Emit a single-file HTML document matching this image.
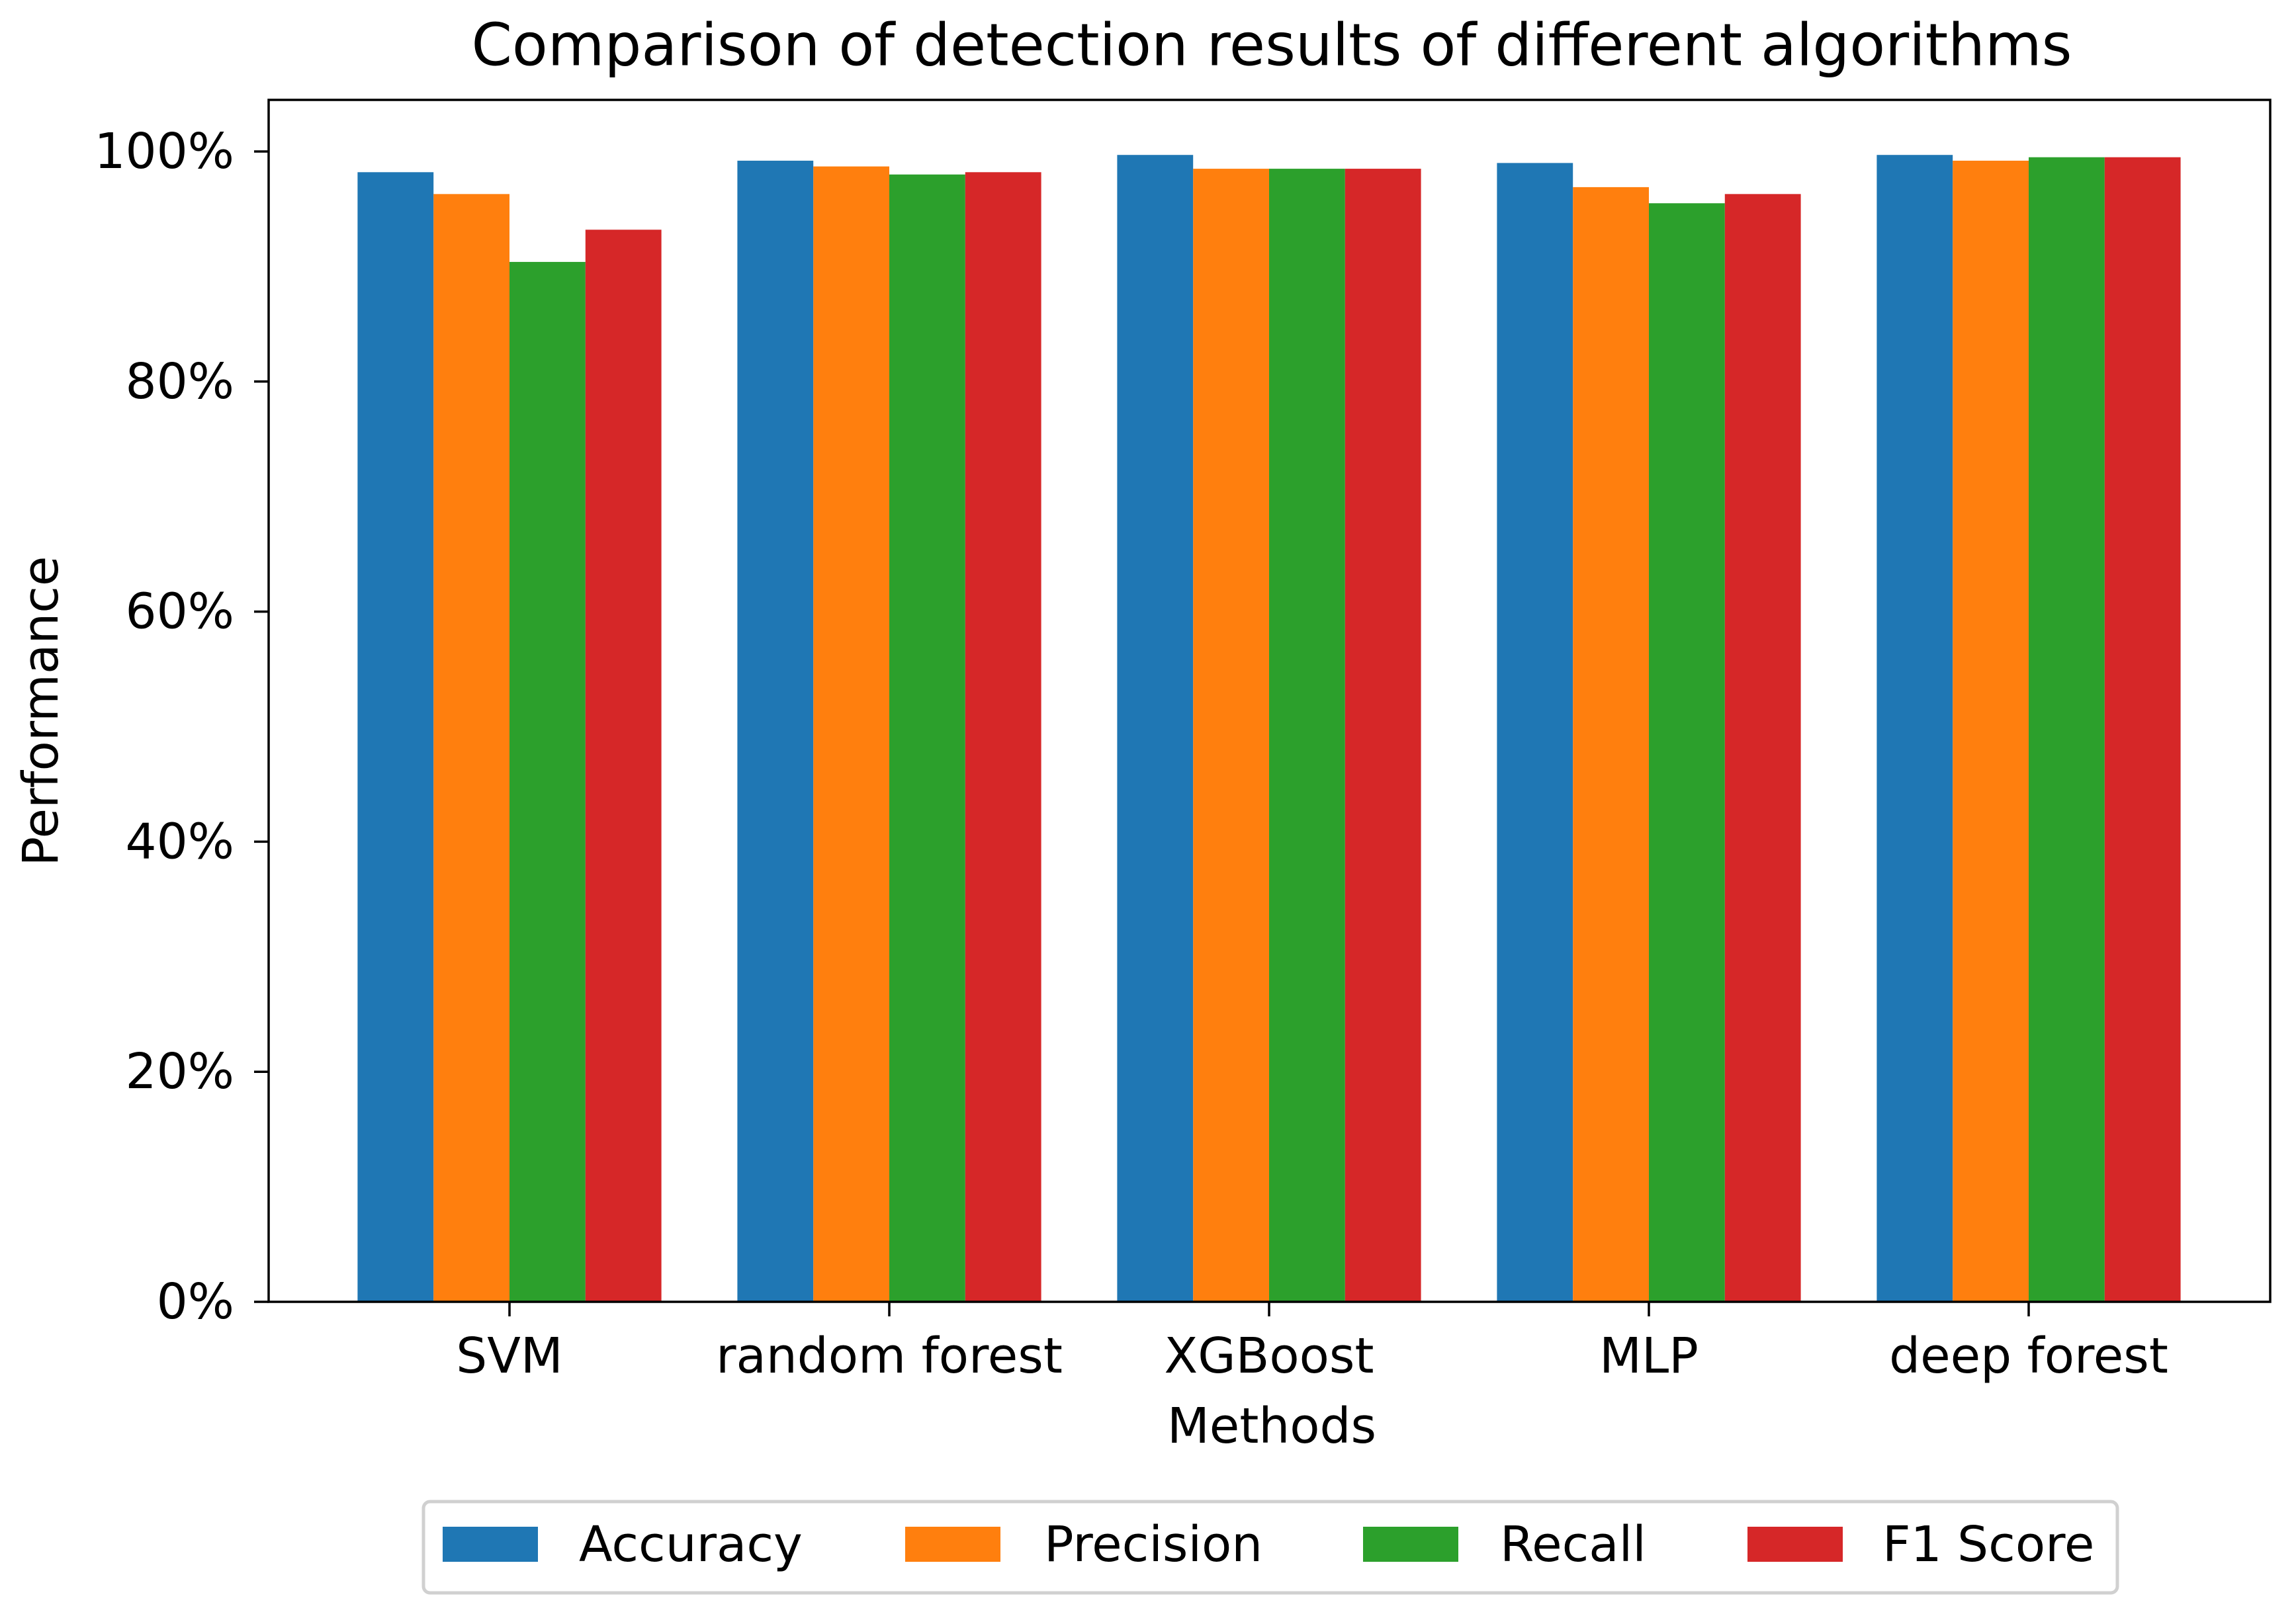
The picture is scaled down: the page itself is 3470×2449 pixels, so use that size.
<!DOCTYPE html>
<html><head><meta charset="utf-8"><style>
html,body{margin:0;padding:0;background:#fff;}
svg text{font-family:"DejaVu Sans","Liberation Sans",sans-serif;fill:#000;}
</style></head><body>
<svg id="chart" width="3470" height="2444" viewBox="0 0 3470 2444" xmlns="http://www.w3.org/2000/svg">
<rect width="3470" height="2444" fill="#fff"/>
<text x="1922" y="68" font-size="88" text-anchor="middle" dominant-baseline="central">Comparison of detection results of different algorithms</text>
<g id="bars"></g>
<g id="axes"></g>
<text x="1922" y="2156" font-size="74" text-anchor="middle" dominant-baseline="central">Methods</text>
<text transform="translate(62,1075) rotate(-90)" font-size="74" text-anchor="middle" dominant-baseline="central">Performance</text>
<g id="legend"></g>
</svg>
<script>
const categories = ["SVM", "random forest", "XGBoost", "MLP", "deep forest"];
const seriesNames = ["Accuracy", "Precision", "Recall", "F1 Score"];
const accuracy = [98.2, 99.2, 99.7, 99.0, 99.7];
const precision = [96.3, 98.7, 98.5, 96.9, 99.2];
const recall = [90.4, 98.0, 98.5, 95.5, 99.5];
const f1Score = [93.2, 98.2, 98.5, 96.3, 99.5];
const yTicks = [0, 20, 40, 60, 80, 100];
const yTickLabels = ["0%", "20%", "40%", "60%", "80%", "100%"];

const series = [accuracy, precision, recall, f1Score];
const colors = ["#1f77b4", "#ff7f0e", "#2ca02c", "#d62728"];
const NS = "http://www.w3.org/2000/svg";
const L = 406, R = 3431, T = 151, B = 1968, Y100 = 229;
const unit = 574, x0 = 770, barW = 0.2 * unit;
function xScale(i) { return x0 + i * unit; }
function yScale(v) { return B - (B - Y100) * v / 100; }
function mk(tag, attrs, parent) {
  const e = document.createElementNS(NS, tag);
  for (const k in attrs) e.setAttribute(k, attrs[k]);
  parent.appendChild(e);
  return e;
}
const bars = document.getElementById('bars');
series.forEach((vals, s) => {
  vals.forEach((v, i) => {
    const cx = xScale(i) + (s - 1.5) * barW;
    const r = mk('rect', {x: cx - barW / 2, y: yScale(v), width: barW, height: B - yScale(v), fill: colors[s]}, bars);
    
    
  });
});
const axes = document.getElementById('axes');
const frame = mk('rect', {x: L, y: T, width: R - L, height: B - T, fill: 'none', stroke: '#000', 'stroke-width': 3.5}, axes);


yTicks.forEach((t, k) => {
  const y = yScale(t);
  mk('line', {x1: L - 22, x2: L, y1: y, y2: y, stroke: '#000', 'stroke-width': 3.5}, axes);
  const tx = mk('text', {x: L - 52, y: y, 'font-size': 74, 'text-anchor': 'end', 'dominant-baseline': 'central'}, axes);
  tx.textContent = yTickLabels[k];
  
  
});
categories.forEach((c, i) => {
  const x = xScale(i);
  mk('line', {x1: x, x2: x, y1: B, y2: B + 22, stroke: '#000', 'stroke-width': 3.5}, axes);
  const tx = mk('text', {x: x, y: 2050, 'font-size': 74, 'text-anchor': 'middle', 'dominant-baseline': 'central'}, axes);
  tx.textContent = c;
  
  
});
const leg = document.getElementById('legend');
mk('rect', {x: 640, y: 2270, width: 2560, height: 138, rx: 10, fill: '#fff', stroke: '#d0d0d0', 'stroke-width': 5}, leg);
const patchX = [669, 1368, 2060, 2641];
const textX = [875, 1578, 2267, 2845];
seriesNames.forEach((n, s) => {
  const p = mk('rect', {x: patchX[s], y: 2308, width: 144, height: 53, fill: colors[s]}, leg);
  
  
  const t = mk('text', {x: textX[s], y: 2335, 'font-size': 74, 'dominant-baseline': 'central'}, leg);
  t.textContent = n;
  
  
});
</script>
</body></html>
